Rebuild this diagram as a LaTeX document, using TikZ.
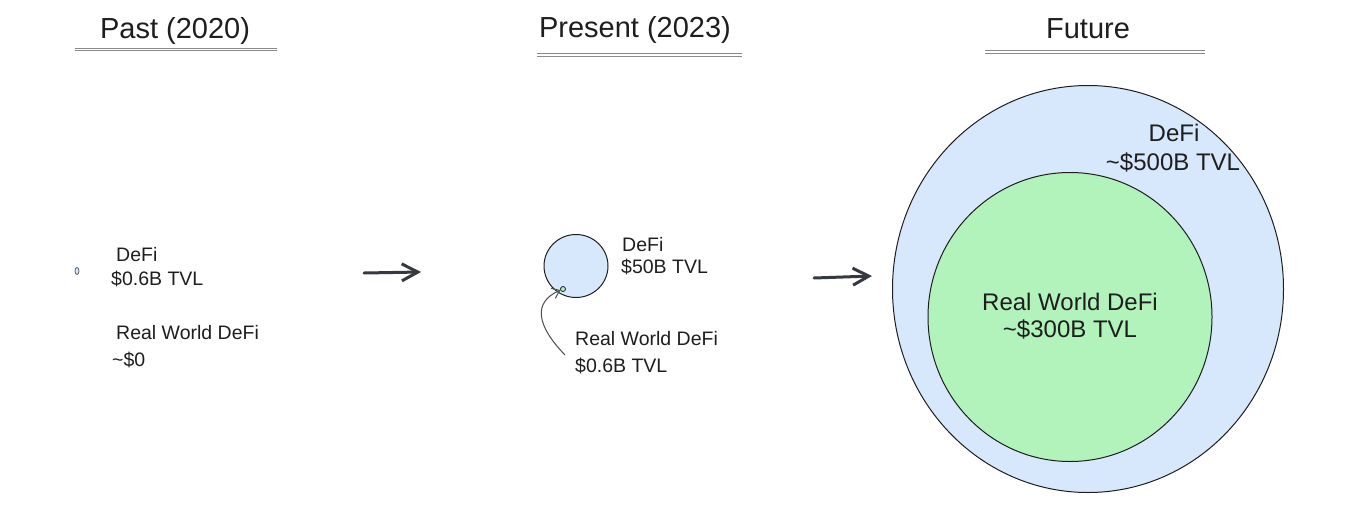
\documentclass[tikz,border=0pt]{standalone}
\usepackage{fontspec}
\setmainfont{Liberation Sans}
\usetikzlibrary{arrows.meta,shapes.geometric}
\definecolor{ink}{HTML}{1E1E1E}
\definecolor{arrowink}{HTML}{343A40}
\definecolor{defiblue}{RGB}{216,232,252}
\definecolor{rwgreen}{HTML}{B2F2BB}
\definecolor{rulegray}{HTML}{8A8A8A}
\tikzset{
  title/.style={font=\fontsize{29}{31}\selectfont, text=ink, inner sep=0pt},
  lbl/.style={font=\fontsize{19.5}{22}\selectfont, text=ink, inner sep=0pt, anchor=west},
  biglbl/.style={font=\fontsize{24}{27}\selectfont, text=ink, inner sep=0pt, align=center},
  rulel/.style={draw=rulegray, line width=0.8pt},
  bigarrow/.style={draw=arrowink, line width=3pt, line cap=round, -{Straight Barb[length=16pt,width=17pt,line width=3pt]}},
  thinarrow/.style={draw=arrowink!90, line width=1pt, -{Straight Barb[length=7pt,width=11pt,line width=1pt]}},
  blob/.style={ellipse, draw=ink, line width=1pt, inner sep=0pt},
}
\begin{document}
\begin{tikzpicture}[x=1pt,y=-1pt]
\useasboundingbox[fill=white] (0,0) rectangle (1354,525);

% titles
\node[title] (tpast) at (175,31) {Past (2020)};
\node[title] (tpres) at (635,30) {Present (2023)};
\node[title] (tfut) at (1088,29) {Future};
% underlines
\coordinate (ua1) at (75,48); \coordinate (ua2) at (277,48);
\coordinate (ub1) at (75,50.5); \coordinate (ub2) at (277,50.5);
\draw[rulel] (ua1) -- (ua2); \draw[rulel] (ub1) -- (ub2);
\coordinate (uc1) at (537,53); \coordinate (uc2) at (742,53);
\coordinate (ud1) at (537,56.5); \coordinate (ud2) at (742,56.5);
\draw[rulel] (uc1) -- (uc2); \draw[rulel] (ud1) -- (ud2);
\coordinate (ue1) at (985,50.5); \coordinate (ue2) at (1205,50.5);
\coordinate (uf1) at (985,53); \coordinate (uf2) at (1205,53);
\draw[rulel] (ue1) -- (ue2); \draw[rulel] (uf1) -- (uf2);

% past
\node[blob, draw=arrowink!80, fill=defiblue, line width=0.8pt, minimum width=4pt, minimum height=7pt] (pastdefi) at (77,271) {};
\node[lbl] (p1) at (116,255) {DeFi};
\node[lbl] (p2) at (111,279) {\$0.6B TVL};
\node[lbl] (p3) at (116,333) {Real World DeFi};
\node[lbl] (p4) at (112,360) {\textasciitilde\$0};

% arrow 1
\coordinate (a1s) at (364,273);
\coordinate (a1e) at (421,272);
\draw[bigarrow] (a1s) -- (a1e);

% present
\node[blob, fill=defiblue, minimum width=64pt, minimum height=63pt] (presdefi) at (576,266) {};
\node[blob, fill=rwgreen, line width=0.8pt, minimum width=5pt, minimum height=5pt] (presrw) at (563,289) {};
\node[lbl] (q1) at (622,245) {DeFi};
\node[lbl] (q2) at (621,267) {\$50B TVL};
\node[lbl] (q3) at (575,339) {Real World DeFi};
\node[lbl] (q4) at (575,366) {\$0.6B TVL};
\coordinate (cs) at (565,355);
\draw[thinarrow] (cs) .. controls (536,325) and (533,302) .. (presrw);

% arrow 2
\coordinate (a2s) at (814,278);
\coordinate (a2e) at (872,276);
\draw[bigarrow] (a2s) -- (a2e);

% future
\node[blob, fill=defiblue, minimum width=391pt, minimum height=407pt] (futdefi) at (1088,289) {};
\node[blob, fill=rwgreen, minimum width=284pt, minimum height=289pt] (futrw) at (1070,317) {};
\node[biglbl] (f1) at (1070,316) {Real World DeFi\\\textasciitilde\$300B TVL};
\node[font=\fontsize{24}{26}\selectfont, text=ink, inner sep=0pt] (f2) at (1174,133) {DeFi};
\node[font=\fontsize{24}{26}\selectfont, text=ink, inner sep=0pt] (f3) at (1173,162) {\textasciitilde\$500B TVL};
\end{tikzpicture}
\end{document}
